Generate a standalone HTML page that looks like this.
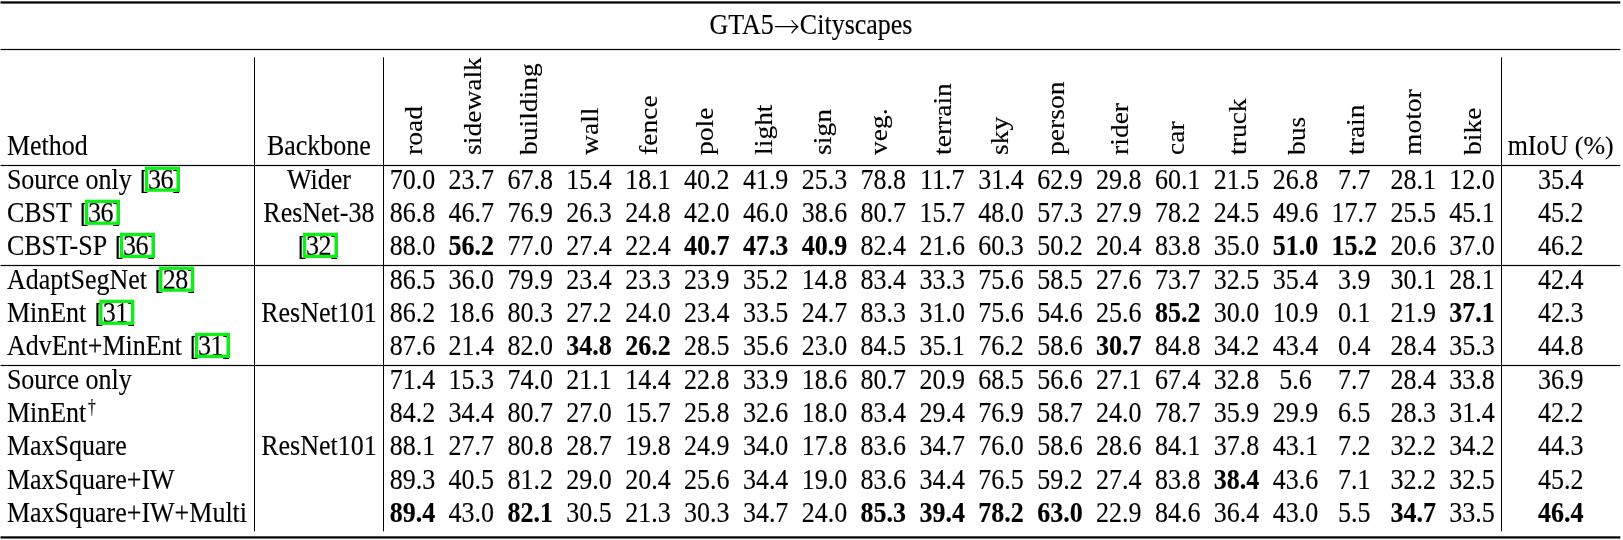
<!DOCTYPE html>
<html><head><meta charset="utf-8"><title>GTA5 to Cityscapes results</title>
<style>
html,body{margin:0;padding:0;background:#fff;}
body{width:1623px;height:540px;overflow:hidden;}
svg{display:block;}
.tx{filter:grayscale(1);}
text{font-family:"Liberation Serif","Times New Roman",serif;font-size:28.60px;fill:#000;stroke:#000;stroke-width:0.15px;}
.ar{font-family:"Noto Serif CJK SC",serif;stroke-width:0;}
.r{font-size:27.50px;}
.br{font-size:26.30px;}
</style></head><body>
<svg width="1623" height="540" viewBox="0 0 1623 540">
<defs><filter id="bl" x="-10%" y="-10%" width="120%" height="120%"><feGaussianBlur stdDeviation="0.45"/></filter></defs>
<rect x="0.50" y="1.35" width="1619.80" height="2.25" fill="#000"/>
<rect x="0.50" y="48.90" width="1619.80" height="1.20" fill="#000"/>
<rect x="0.50" y="164.90" width="1619.80" height="1.20" fill="#000"/>
<rect x="0.50" y="264.90" width="1619.80" height="1.20" fill="#000"/>
<rect x="0.50" y="364.90" width="1619.80" height="1.20" fill="#000"/>
<rect x="0.50" y="536.30" width="1619.80" height="2.25" fill="#000"/>
<rect x="254.00" y="57.30" width="1.00" height="474.00" fill="#000"/>
<rect x="383.00" y="57.30" width="1.00" height="474.00" fill="#000"/>
<rect x="1501.00" y="57.30" width="1.00" height="474.00" fill="#000"/>
<g class="tx">
<text transform="translate(811.00 33.70) scale(0.9091 1)" text-anchor="middle">GTA5<tspan class="ar" dy="3.80">→</tspan><tspan dy="-3.80">Cityscapes</tspan></text>
<text transform="translate(6.90 154.80) scale(0.9091 1)">Method</text>
<text transform="translate(318.90 154.80) scale(0.9091 1)" text-anchor="middle">Backbone</text>
<text transform="translate(1507.63 154.80) scale(0.9091 1)">mIoU</text>
<text transform="translate(1574.79 153.80) scale(1.0156 1)" style="font-size:25.6px">(%)</text>
<text class="r" transform="translate(421.65 154.90) scale(0.9450 1) rotate(-90)">road</text>
<text class="r" transform="translate(480.52 154.90) scale(0.9450 1) rotate(-90)">sidewalk</text>
<text class="r" transform="translate(536.70 154.90) scale(0.9450 1) rotate(-90)">building</text>
<text class="r" transform="translate(598.26 154.90) scale(0.9450 1) rotate(-90)">wall</text>
<text class="r" transform="translate(657.13 154.90) scale(0.9450 1) rotate(-90)">fence</text>
<text class="r" transform="translate(713.31 154.90) scale(0.9450 1) rotate(-90)">pole</text>
<text class="r" transform="translate(772.18 154.90) scale(0.9450 1) rotate(-90)">light</text>
<text class="r" transform="translate(831.05 154.90) scale(0.9450 1) rotate(-90)">sign</text>
<text class="r" transform="translate(887.02 154.90) scale(0.9450 1) rotate(-90)">veg.</text>
<text class="r" transform="translate(951.48 154.90) scale(0.9450 1) rotate(-90)">terrain</text>
<text class="r" transform="translate(1007.66 154.90) scale(0.9450 1) rotate(-90)">sky</text>
<text class="r" transform="translate(1063.63 154.90) scale(0.9450 1) rotate(-90)">person</text>
<text class="r" transform="translate(1128.09 154.90) scale(0.9450 1) rotate(-90)">rider</text>
<text class="r" transform="translate(1184.06 154.90) scale(0.9450 1) rotate(-90)">car</text>
<text class="r" transform="translate(1245.83 154.90) scale(0.9450 1) rotate(-90)">truck</text>
<text class="r" transform="translate(1304.70 154.90) scale(0.9450 1) rotate(-90)">bus</text>
<text class="r" transform="translate(1363.57 154.90) scale(0.9450 1) rotate(-90)">train</text>
<text class="r" transform="translate(1421.09 154.90) scale(0.9450 1) rotate(-90)">motor</text>
<text class="r" transform="translate(1481.31 154.90) scale(0.9450 1) rotate(-90)">bike</text>
<text transform="translate(6.90 188.80) scale(0.9091 1)">Source only</text>
<text transform="translate(318.90 188.80) scale(0.9091 1)" text-anchor="middle">Wider</text>
<text transform="translate(412.40 188.80) scale(0.9091 1)" text-anchor="middle">70.0</text>
<text transform="translate(471.27 188.80) scale(0.9091 1)" text-anchor="middle">23.7</text>
<text transform="translate(530.14 188.80) scale(0.9091 1)" text-anchor="middle">67.8</text>
<text transform="translate(589.01 188.80) scale(0.9091 1)" text-anchor="middle">15.4</text>
<text transform="translate(647.88 188.80) scale(0.9091 1)" text-anchor="middle">18.1</text>
<text transform="translate(706.75 188.80) scale(0.9091 1)" text-anchor="middle">40.2</text>
<text transform="translate(765.62 188.80) scale(0.9091 1)" text-anchor="middle">41.9</text>
<text transform="translate(824.49 188.80) scale(0.9091 1)" text-anchor="middle">25.3</text>
<text transform="translate(883.36 188.80) scale(0.9091 1)" text-anchor="middle">78.8</text>
<text transform="translate(942.23 188.80) scale(0.9091 1)" text-anchor="middle">11.7</text>
<text transform="translate(1001.10 188.80) scale(0.9091 1)" text-anchor="middle">31.4</text>
<text transform="translate(1059.97 188.80) scale(0.9091 1)" text-anchor="middle">62.9</text>
<text transform="translate(1118.84 188.80) scale(0.9091 1)" text-anchor="middle">29.8</text>
<text transform="translate(1177.71 188.80) scale(0.9091 1)" text-anchor="middle">60.1</text>
<text transform="translate(1236.58 188.80) scale(0.9091 1)" text-anchor="middle">21.5</text>
<text transform="translate(1295.45 188.80) scale(0.9091 1)" text-anchor="middle">26.8</text>
<text transform="translate(1354.32 188.80) scale(0.9091 1)" text-anchor="middle">7.7</text>
<text transform="translate(1413.19 188.80) scale(0.9091 1)" text-anchor="middle">28.1</text>
<text transform="translate(1472.06 188.80) scale(0.9091 1)" text-anchor="middle">12.0</text>
<text transform="translate(1560.70 188.80) scale(0.9091 1)" text-anchor="middle">35.4</text>
<text transform="translate(6.90 221.90) scale(0.9091 1)">CBST</text>
<text transform="translate(318.90 221.90) scale(0.9091 1)" text-anchor="middle">ResNet-38</text>
<text transform="translate(412.40 221.90) scale(0.9091 1)" text-anchor="middle">86.8</text>
<text transform="translate(471.27 221.90) scale(0.9091 1)" text-anchor="middle">46.7</text>
<text transform="translate(530.14 221.90) scale(0.9091 1)" text-anchor="middle">76.9</text>
<text transform="translate(589.01 221.90) scale(0.9091 1)" text-anchor="middle">26.3</text>
<text transform="translate(647.88 221.90) scale(0.9091 1)" text-anchor="middle">24.8</text>
<text transform="translate(706.75 221.90) scale(0.9091 1)" text-anchor="middle">42.0</text>
<text transform="translate(765.62 221.90) scale(0.9091 1)" text-anchor="middle">46.0</text>
<text transform="translate(824.49 221.90) scale(0.9091 1)" text-anchor="middle">38.6</text>
<text transform="translate(883.36 221.90) scale(0.9091 1)" text-anchor="middle">80.7</text>
<text transform="translate(942.23 221.90) scale(0.9091 1)" text-anchor="middle">15.7</text>
<text transform="translate(1001.10 221.90) scale(0.9091 1)" text-anchor="middle">48.0</text>
<text transform="translate(1059.97 221.90) scale(0.9091 1)" text-anchor="middle">57.3</text>
<text transform="translate(1118.84 221.90) scale(0.9091 1)" text-anchor="middle">27.9</text>
<text transform="translate(1177.71 221.90) scale(0.9091 1)" text-anchor="middle">78.2</text>
<text transform="translate(1236.58 221.90) scale(0.9091 1)" text-anchor="middle">24.5</text>
<text transform="translate(1295.45 221.90) scale(0.9091 1)" text-anchor="middle">49.6</text>
<text transform="translate(1354.32 221.90) scale(0.9091 1)" text-anchor="middle">17.7</text>
<text transform="translate(1413.19 221.90) scale(0.9091 1)" text-anchor="middle">25.5</text>
<text transform="translate(1472.06 221.90) scale(0.9091 1)" text-anchor="middle">45.1</text>
<text transform="translate(1560.70 221.90) scale(0.9091 1)" text-anchor="middle">45.2</text>
<text transform="translate(6.90 255.00) scale(0.9091 1)">CBST-SP</text>
<text transform="translate(412.40 255.00) scale(0.9091 1)" text-anchor="middle">88.0</text>
<text transform="translate(471.27 255.00) scale(0.9091 1)" text-anchor="middle" font-weight="bold">56.2</text>
<text transform="translate(530.14 255.00) scale(0.9091 1)" text-anchor="middle">77.0</text>
<text transform="translate(589.01 255.00) scale(0.9091 1)" text-anchor="middle">27.4</text>
<text transform="translate(647.88 255.00) scale(0.9091 1)" text-anchor="middle">22.4</text>
<text transform="translate(706.75 255.00) scale(0.9091 1)" text-anchor="middle" font-weight="bold">40.7</text>
<text transform="translate(765.62 255.00) scale(0.9091 1)" text-anchor="middle" font-weight="bold">47.3</text>
<text transform="translate(824.49 255.00) scale(0.9091 1)" text-anchor="middle" font-weight="bold">40.9</text>
<text transform="translate(883.36 255.00) scale(0.9091 1)" text-anchor="middle">82.4</text>
<text transform="translate(942.23 255.00) scale(0.9091 1)" text-anchor="middle">21.6</text>
<text transform="translate(1001.10 255.00) scale(0.9091 1)" text-anchor="middle">60.3</text>
<text transform="translate(1059.97 255.00) scale(0.9091 1)" text-anchor="middle">50.2</text>
<text transform="translate(1118.84 255.00) scale(0.9091 1)" text-anchor="middle">20.4</text>
<text transform="translate(1177.71 255.00) scale(0.9091 1)" text-anchor="middle">83.8</text>
<text transform="translate(1236.58 255.00) scale(0.9091 1)" text-anchor="middle">35.0</text>
<text transform="translate(1295.45 255.00) scale(0.9091 1)" text-anchor="middle" font-weight="bold">51.0</text>
<text transform="translate(1354.32 255.00) scale(0.9091 1)" text-anchor="middle" font-weight="bold">15.2</text>
<text transform="translate(1413.19 255.00) scale(0.9091 1)" text-anchor="middle">20.6</text>
<text transform="translate(1472.06 255.00) scale(0.9091 1)" text-anchor="middle">37.0</text>
<text transform="translate(1560.70 255.00) scale(0.9091 1)" text-anchor="middle">46.2</text>
<text transform="translate(6.90 288.80) scale(0.9091 1)">AdaptSegNet</text>
<text transform="translate(412.40 288.80) scale(0.9091 1)" text-anchor="middle">86.5</text>
<text transform="translate(471.27 288.80) scale(0.9091 1)" text-anchor="middle">36.0</text>
<text transform="translate(530.14 288.80) scale(0.9091 1)" text-anchor="middle">79.9</text>
<text transform="translate(589.01 288.80) scale(0.9091 1)" text-anchor="middle">23.4</text>
<text transform="translate(647.88 288.80) scale(0.9091 1)" text-anchor="middle">23.3</text>
<text transform="translate(706.75 288.80) scale(0.9091 1)" text-anchor="middle">23.9</text>
<text transform="translate(765.62 288.80) scale(0.9091 1)" text-anchor="middle">35.2</text>
<text transform="translate(824.49 288.80) scale(0.9091 1)" text-anchor="middle">14.8</text>
<text transform="translate(883.36 288.80) scale(0.9091 1)" text-anchor="middle">83.4</text>
<text transform="translate(942.23 288.80) scale(0.9091 1)" text-anchor="middle">33.3</text>
<text transform="translate(1001.10 288.80) scale(0.9091 1)" text-anchor="middle">75.6</text>
<text transform="translate(1059.97 288.80) scale(0.9091 1)" text-anchor="middle">58.5</text>
<text transform="translate(1118.84 288.80) scale(0.9091 1)" text-anchor="middle">27.6</text>
<text transform="translate(1177.71 288.80) scale(0.9091 1)" text-anchor="middle">73.7</text>
<text transform="translate(1236.58 288.80) scale(0.9091 1)" text-anchor="middle">32.5</text>
<text transform="translate(1295.45 288.80) scale(0.9091 1)" text-anchor="middle">35.4</text>
<text transform="translate(1354.32 288.80) scale(0.9091 1)" text-anchor="middle">3.9</text>
<text transform="translate(1413.19 288.80) scale(0.9091 1)" text-anchor="middle">30.1</text>
<text transform="translate(1472.06 288.80) scale(0.9091 1)" text-anchor="middle">28.1</text>
<text transform="translate(1560.70 288.80) scale(0.9091 1)" text-anchor="middle">42.4</text>
<text transform="translate(6.90 321.90) scale(0.9091 1)">MinEnt</text>
<text transform="translate(318.90 321.90) scale(0.9091 1)" text-anchor="middle">ResNet101</text>
<text transform="translate(412.40 321.90) scale(0.9091 1)" text-anchor="middle">86.2</text>
<text transform="translate(471.27 321.90) scale(0.9091 1)" text-anchor="middle">18.6</text>
<text transform="translate(530.14 321.90) scale(0.9091 1)" text-anchor="middle">80.3</text>
<text transform="translate(589.01 321.90) scale(0.9091 1)" text-anchor="middle">27.2</text>
<text transform="translate(647.88 321.90) scale(0.9091 1)" text-anchor="middle">24.0</text>
<text transform="translate(706.75 321.90) scale(0.9091 1)" text-anchor="middle">23.4</text>
<text transform="translate(765.62 321.90) scale(0.9091 1)" text-anchor="middle">33.5</text>
<text transform="translate(824.49 321.90) scale(0.9091 1)" text-anchor="middle">24.7</text>
<text transform="translate(883.36 321.90) scale(0.9091 1)" text-anchor="middle">83.3</text>
<text transform="translate(942.23 321.90) scale(0.9091 1)" text-anchor="middle">31.0</text>
<text transform="translate(1001.10 321.90) scale(0.9091 1)" text-anchor="middle">75.6</text>
<text transform="translate(1059.97 321.90) scale(0.9091 1)" text-anchor="middle">54.6</text>
<text transform="translate(1118.84 321.90) scale(0.9091 1)" text-anchor="middle">25.6</text>
<text transform="translate(1177.71 321.90) scale(0.9091 1)" text-anchor="middle" font-weight="bold">85.2</text>
<text transform="translate(1236.58 321.90) scale(0.9091 1)" text-anchor="middle">30.0</text>
<text transform="translate(1295.45 321.90) scale(0.9091 1)" text-anchor="middle">10.9</text>
<text transform="translate(1354.32 321.90) scale(0.9091 1)" text-anchor="middle">0.1</text>
<text transform="translate(1413.19 321.90) scale(0.9091 1)" text-anchor="middle">21.9</text>
<text transform="translate(1472.06 321.90) scale(0.9091 1)" text-anchor="middle" font-weight="bold">37.1</text>
<text transform="translate(1560.70 321.90) scale(0.9091 1)" text-anchor="middle">42.3</text>
<text transform="translate(6.90 355.00) scale(0.9091 1)">AdvEnt+MinEnt</text>
<text transform="translate(412.40 355.00) scale(0.9091 1)" text-anchor="middle">87.6</text>
<text transform="translate(471.27 355.00) scale(0.9091 1)" text-anchor="middle">21.4</text>
<text transform="translate(530.14 355.00) scale(0.9091 1)" text-anchor="middle">82.0</text>
<text transform="translate(589.01 355.00) scale(0.9091 1)" text-anchor="middle" font-weight="bold">34.8</text>
<text transform="translate(647.88 355.00) scale(0.9091 1)" text-anchor="middle" font-weight="bold">26.2</text>
<text transform="translate(706.75 355.00) scale(0.9091 1)" text-anchor="middle">28.5</text>
<text transform="translate(765.62 355.00) scale(0.9091 1)" text-anchor="middle">35.6</text>
<text transform="translate(824.49 355.00) scale(0.9091 1)" text-anchor="middle">23.0</text>
<text transform="translate(883.36 355.00) scale(0.9091 1)" text-anchor="middle">84.5</text>
<text transform="translate(942.23 355.00) scale(0.9091 1)" text-anchor="middle">35.1</text>
<text transform="translate(1001.10 355.00) scale(0.9091 1)" text-anchor="middle">76.2</text>
<text transform="translate(1059.97 355.00) scale(0.9091 1)" text-anchor="middle">58.6</text>
<text transform="translate(1118.84 355.00) scale(0.9091 1)" text-anchor="middle" font-weight="bold">30.7</text>
<text transform="translate(1177.71 355.00) scale(0.9091 1)" text-anchor="middle">84.8</text>
<text transform="translate(1236.58 355.00) scale(0.9091 1)" text-anchor="middle">34.2</text>
<text transform="translate(1295.45 355.00) scale(0.9091 1)" text-anchor="middle">43.4</text>
<text transform="translate(1354.32 355.00) scale(0.9091 1)" text-anchor="middle">0.4</text>
<text transform="translate(1413.19 355.00) scale(0.9091 1)" text-anchor="middle">28.4</text>
<text transform="translate(1472.06 355.00) scale(0.9091 1)" text-anchor="middle">35.3</text>
<text transform="translate(1560.70 355.00) scale(0.9091 1)" text-anchor="middle">44.8</text>
<text transform="translate(6.90 389.00) scale(0.9091 1)">Source only</text>
<text transform="translate(412.40 389.00) scale(0.9091 1)" text-anchor="middle">71.4</text>
<text transform="translate(471.27 389.00) scale(0.9091 1)" text-anchor="middle">15.3</text>
<text transform="translate(530.14 389.00) scale(0.9091 1)" text-anchor="middle">74.0</text>
<text transform="translate(589.01 389.00) scale(0.9091 1)" text-anchor="middle">21.1</text>
<text transform="translate(647.88 389.00) scale(0.9091 1)" text-anchor="middle">14.4</text>
<text transform="translate(706.75 389.00) scale(0.9091 1)" text-anchor="middle">22.8</text>
<text transform="translate(765.62 389.00) scale(0.9091 1)" text-anchor="middle">33.9</text>
<text transform="translate(824.49 389.00) scale(0.9091 1)" text-anchor="middle">18.6</text>
<text transform="translate(883.36 389.00) scale(0.9091 1)" text-anchor="middle">80.7</text>
<text transform="translate(942.23 389.00) scale(0.9091 1)" text-anchor="middle">20.9</text>
<text transform="translate(1001.10 389.00) scale(0.9091 1)" text-anchor="middle">68.5</text>
<text transform="translate(1059.97 389.00) scale(0.9091 1)" text-anchor="middle">56.6</text>
<text transform="translate(1118.84 389.00) scale(0.9091 1)" text-anchor="middle">27.1</text>
<text transform="translate(1177.71 389.00) scale(0.9091 1)" text-anchor="middle">67.4</text>
<text transform="translate(1236.58 389.00) scale(0.9091 1)" text-anchor="middle">32.8</text>
<text transform="translate(1295.45 389.00) scale(0.9091 1)" text-anchor="middle">5.6</text>
<text transform="translate(1354.32 389.00) scale(0.9091 1)" text-anchor="middle">7.7</text>
<text transform="translate(1413.19 389.00) scale(0.9091 1)" text-anchor="middle">28.4</text>
<text transform="translate(1472.06 389.00) scale(0.9091 1)" text-anchor="middle">33.8</text>
<text transform="translate(1560.70 389.00) scale(0.9091 1)" text-anchor="middle">36.9</text>
<text transform="translate(6.90 422.20) scale(0.9091 1)">MinEnt</text>
<text transform="translate(412.40 422.20) scale(0.9091 1)" text-anchor="middle">84.2</text>
<text transform="translate(471.27 422.20) scale(0.9091 1)" text-anchor="middle">34.4</text>
<text transform="translate(530.14 422.20) scale(0.9091 1)" text-anchor="middle">80.7</text>
<text transform="translate(589.01 422.20) scale(0.9091 1)" text-anchor="middle">27.0</text>
<text transform="translate(647.88 422.20) scale(0.9091 1)" text-anchor="middle">15.7</text>
<text transform="translate(706.75 422.20) scale(0.9091 1)" text-anchor="middle">25.8</text>
<text transform="translate(765.62 422.20) scale(0.9091 1)" text-anchor="middle">32.6</text>
<text transform="translate(824.49 422.20) scale(0.9091 1)" text-anchor="middle">18.0</text>
<text transform="translate(883.36 422.20) scale(0.9091 1)" text-anchor="middle">83.4</text>
<text transform="translate(942.23 422.20) scale(0.9091 1)" text-anchor="middle">29.4</text>
<text transform="translate(1001.10 422.20) scale(0.9091 1)" text-anchor="middle">76.9</text>
<text transform="translate(1059.97 422.20) scale(0.9091 1)" text-anchor="middle">58.7</text>
<text transform="translate(1118.84 422.20) scale(0.9091 1)" text-anchor="middle">24.0</text>
<text transform="translate(1177.71 422.20) scale(0.9091 1)" text-anchor="middle">78.7</text>
<text transform="translate(1236.58 422.20) scale(0.9091 1)" text-anchor="middle">35.9</text>
<text transform="translate(1295.45 422.20) scale(0.9091 1)" text-anchor="middle">29.9</text>
<text transform="translate(1354.32 422.20) scale(0.9091 1)" text-anchor="middle">6.5</text>
<text transform="translate(1413.19 422.20) scale(0.9091 1)" text-anchor="middle">28.3</text>
<text transform="translate(1472.06 422.20) scale(0.9091 1)" text-anchor="middle">31.4</text>
<text transform="translate(1560.70 422.20) scale(0.9091 1)" text-anchor="middle">42.2</text>
<text transform="translate(6.90 455.40) scale(0.9091 1)">MaxSquare</text>
<text transform="translate(318.90 455.40) scale(0.9091 1)" text-anchor="middle">ResNet101</text>
<text transform="translate(412.40 455.40) scale(0.9091 1)" text-anchor="middle">88.1</text>
<text transform="translate(471.27 455.40) scale(0.9091 1)" text-anchor="middle">27.7</text>
<text transform="translate(530.14 455.40) scale(0.9091 1)" text-anchor="middle">80.8</text>
<text transform="translate(589.01 455.40) scale(0.9091 1)" text-anchor="middle">28.7</text>
<text transform="translate(647.88 455.40) scale(0.9091 1)" text-anchor="middle">19.8</text>
<text transform="translate(706.75 455.40) scale(0.9091 1)" text-anchor="middle">24.9</text>
<text transform="translate(765.62 455.40) scale(0.9091 1)" text-anchor="middle">34.0</text>
<text transform="translate(824.49 455.40) scale(0.9091 1)" text-anchor="middle">17.8</text>
<text transform="translate(883.36 455.40) scale(0.9091 1)" text-anchor="middle">83.6</text>
<text transform="translate(942.23 455.40) scale(0.9091 1)" text-anchor="middle">34.7</text>
<text transform="translate(1001.10 455.40) scale(0.9091 1)" text-anchor="middle">76.0</text>
<text transform="translate(1059.97 455.40) scale(0.9091 1)" text-anchor="middle">58.6</text>
<text transform="translate(1118.84 455.40) scale(0.9091 1)" text-anchor="middle">28.6</text>
<text transform="translate(1177.71 455.40) scale(0.9091 1)" text-anchor="middle">84.1</text>
<text transform="translate(1236.58 455.40) scale(0.9091 1)" text-anchor="middle">37.8</text>
<text transform="translate(1295.45 455.40) scale(0.9091 1)" text-anchor="middle">43.1</text>
<text transform="translate(1354.32 455.40) scale(0.9091 1)" text-anchor="middle">7.2</text>
<text transform="translate(1413.19 455.40) scale(0.9091 1)" text-anchor="middle">32.2</text>
<text transform="translate(1472.06 455.40) scale(0.9091 1)" text-anchor="middle">34.2</text>
<text transform="translate(1560.70 455.40) scale(0.9091 1)" text-anchor="middle">44.3</text>
<text transform="translate(6.90 488.60) scale(0.9091 1)">MaxSquare+IW</text>
<text transform="translate(412.40 488.60) scale(0.9091 1)" text-anchor="middle">89.3</text>
<text transform="translate(471.27 488.60) scale(0.9091 1)" text-anchor="middle">40.5</text>
<text transform="translate(530.14 488.60) scale(0.9091 1)" text-anchor="middle">81.2</text>
<text transform="translate(589.01 488.60) scale(0.9091 1)" text-anchor="middle">29.0</text>
<text transform="translate(647.88 488.60) scale(0.9091 1)" text-anchor="middle">20.4</text>
<text transform="translate(706.75 488.60) scale(0.9091 1)" text-anchor="middle">25.6</text>
<text transform="translate(765.62 488.60) scale(0.9091 1)" text-anchor="middle">34.4</text>
<text transform="translate(824.49 488.60) scale(0.9091 1)" text-anchor="middle">19.0</text>
<text transform="translate(883.36 488.60) scale(0.9091 1)" text-anchor="middle">83.6</text>
<text transform="translate(942.23 488.60) scale(0.9091 1)" text-anchor="middle">34.4</text>
<text transform="translate(1001.10 488.60) scale(0.9091 1)" text-anchor="middle">76.5</text>
<text transform="translate(1059.97 488.60) scale(0.9091 1)" text-anchor="middle">59.2</text>
<text transform="translate(1118.84 488.60) scale(0.9091 1)" text-anchor="middle">27.4</text>
<text transform="translate(1177.71 488.60) scale(0.9091 1)" text-anchor="middle">83.8</text>
<text transform="translate(1236.58 488.60) scale(0.9091 1)" text-anchor="middle" font-weight="bold">38.4</text>
<text transform="translate(1295.45 488.60) scale(0.9091 1)" text-anchor="middle">43.6</text>
<text transform="translate(1354.32 488.60) scale(0.9091 1)" text-anchor="middle">7.1</text>
<text transform="translate(1413.19 488.60) scale(0.9091 1)" text-anchor="middle">32.2</text>
<text transform="translate(1472.06 488.60) scale(0.9091 1)" text-anchor="middle">32.5</text>
<text transform="translate(1560.70 488.60) scale(0.9091 1)" text-anchor="middle">45.2</text>
<text transform="translate(6.90 521.80) scale(0.9091 1)">MaxSquare+IW+Multi</text>
<text transform="translate(412.40 521.80) scale(0.9091 1)" text-anchor="middle" font-weight="bold">89.4</text>
<text transform="translate(471.27 521.80) scale(0.9091 1)" text-anchor="middle">43.0</text>
<text transform="translate(530.14 521.80) scale(0.9091 1)" text-anchor="middle" font-weight="bold">82.1</text>
<text transform="translate(589.01 521.80) scale(0.9091 1)" text-anchor="middle">30.5</text>
<text transform="translate(647.88 521.80) scale(0.9091 1)" text-anchor="middle">21.3</text>
<text transform="translate(706.75 521.80) scale(0.9091 1)" text-anchor="middle">30.3</text>
<text transform="translate(765.62 521.80) scale(0.9091 1)" text-anchor="middle">34.7</text>
<text transform="translate(824.49 521.80) scale(0.9091 1)" text-anchor="middle">24.0</text>
<text transform="translate(883.36 521.80) scale(0.9091 1)" text-anchor="middle" font-weight="bold">85.3</text>
<text transform="translate(942.23 521.80) scale(0.9091 1)" text-anchor="middle" font-weight="bold">39.4</text>
<text transform="translate(1001.10 521.80) scale(0.9091 1)" text-anchor="middle" font-weight="bold">78.2</text>
<text transform="translate(1059.97 521.80) scale(0.9091 1)" text-anchor="middle" font-weight="bold">63.0</text>
<text transform="translate(1118.84 521.80) scale(0.9091 1)" text-anchor="middle">22.9</text>
<text transform="translate(1177.71 521.80) scale(0.9091 1)" text-anchor="middle">84.6</text>
<text transform="translate(1236.58 521.80) scale(0.9091 1)" text-anchor="middle">36.4</text>
<text transform="translate(1295.45 521.80) scale(0.9091 1)" text-anchor="middle">43.0</text>
<text transform="translate(1354.32 521.80) scale(0.9091 1)" text-anchor="middle">5.5</text>
<text transform="translate(1413.19 521.80) scale(0.9091 1)" text-anchor="middle" font-weight="bold">34.7</text>
<text transform="translate(1472.06 521.80) scale(0.9091 1)" text-anchor="middle">33.5</text>
<text transform="translate(1560.70 521.80) scale(0.9091 1)" text-anchor="middle" font-weight="bold">46.4</text>
<text transform="translate(88.00 412.70) scale(0.7300 1)" style="font-size:21.20px">†</text>
<text class="br" transform="translate(139.80 189.10) scale(0.9890 1)">[</text>
<text transform="translate(147.96 188.80) scale(0.9091 1)" letter-spacing="-0.55">36</text>
<text class="br" transform="translate(172.36 189.10) scale(0.9890 1)">]</text>
<text class="br" transform="translate(79.80 222.20) scale(0.9890 1)">[</text>
<text transform="translate(87.96 221.90) scale(0.9091 1)" letter-spacing="-0.55">36</text>
<text class="br" transform="translate(112.36 222.20) scale(0.9890 1)">]</text>
<text class="br" transform="translate(114.80 255.30) scale(0.9890 1)">[</text>
<text transform="translate(122.96 255.00) scale(0.9091 1)" letter-spacing="-0.55">36</text>
<text class="br" transform="translate(147.36 255.30) scale(0.9890 1)">]</text>
<text class="br" transform="translate(297.80 255.30) scale(0.9890 1)">[</text>
<text transform="translate(305.96 255.00) scale(0.9091 1)" letter-spacing="-0.55">32</text>
<text class="br" transform="translate(330.36 255.30) scale(0.9890 1)">]</text>
<text class="br" transform="translate(154.60 289.10) scale(0.9890 1)">[</text>
<text transform="translate(162.76 288.80) scale(0.9091 1)" letter-spacing="-0.55">28</text>
<text class="br" transform="translate(187.16 289.10) scale(0.9890 1)">]</text>
<text class="br" transform="translate(94.60 322.20) scale(0.9890 1)">[</text>
<text transform="translate(102.76 321.90) scale(0.9091 1)" letter-spacing="-0.55">31</text>
<text class="br" transform="translate(127.16 322.20) scale(0.9890 1)">]</text>
<text class="br" transform="translate(189.80 355.30) scale(0.9890 1)">[</text>
<text transform="translate(197.96 355.00) scale(0.9091 1)" letter-spacing="-0.55">31</text>
<text class="br" transform="translate(222.36 355.30) scale(0.9890 1)">]</text>
</g>
<g filter="url(#bl)">
<rect x="146.55" y="168.25" width="31.80" height="21.90" fill="none" stroke="rgb(16,240,24)" stroke-width="3.30"/>
<rect x="86.55" y="201.35" width="31.80" height="21.90" fill="none" stroke="rgb(16,240,24)" stroke-width="3.30"/>
<rect x="121.55" y="234.45" width="31.80" height="21.90" fill="none" stroke="rgb(16,240,24)" stroke-width="3.30"/>
<rect x="304.55" y="234.45" width="31.80" height="21.90" fill="none" stroke="rgb(16,240,24)" stroke-width="3.30"/>
<rect x="160.75" y="268.25" width="31.80" height="21.90" fill="none" stroke="rgb(16,240,24)" stroke-width="3.30"/>
<rect x="100.85" y="301.35" width="31.80" height="21.90" fill="none" stroke="rgb(16,240,24)" stroke-width="3.30"/>
<rect x="196.65" y="334.45" width="31.80" height="21.90" fill="none" stroke="rgb(16,240,24)" stroke-width="3.30"/>
</g>
</svg>
</body></html>
